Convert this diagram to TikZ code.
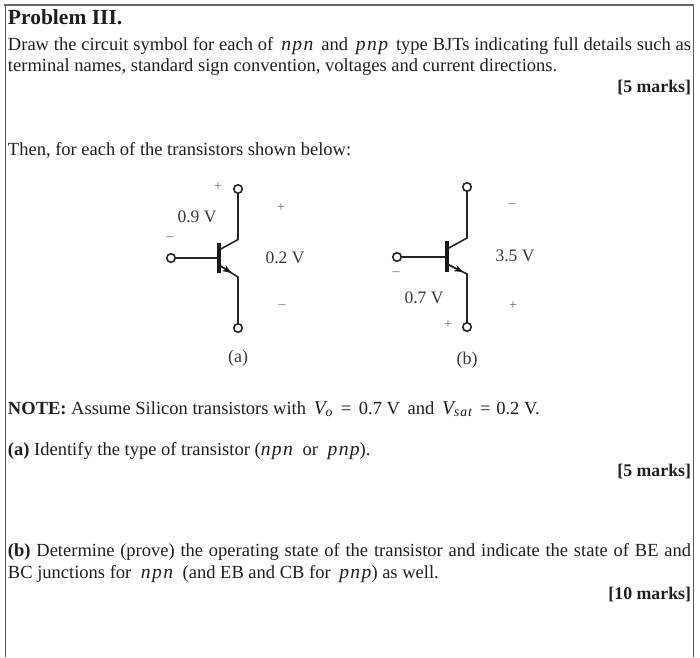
\documentclass[tikz,border=0pt]{standalone}
\usepackage{fontspec}
\setmainfont{Liberation Serif}
\newfontfamily\vitalic[LetterSpace=7,Scale=1.06]{Liberation Serif}
\usetikzlibrary{arrows.meta,calc}
\tikzset{
  txt/.style={anchor=base west,inner sep=0pt,outer sep=0pt,text=black!88,font=\fontsize{18.5}{20}\selectfont},
  rtxt/.style={anchor=base east,inner sep=0pt,outer sep=0pt,text=black!88,font=\fontsize{17.8}{20}\selectfont\bfseries},
  lbl/.style={anchor=center,inner sep=0pt,text=black!78,font=\fontsize{17.5}{20}\selectfont},
  sgn/.style={anchor=center,inner sep=0pt,text=black!60,font=\fontsize{14}{14}\selectfont},
  term/.style={circle,draw=black!85,line width=1.6pt,fill=white,minimum size=8.5pt,inner sep=0pt},
  wire/.style={draw=black!85,line width=1.6pt},
  bar/.style={draw=black!90,line width=3.4pt},
  head/.style={-{Stealth[length=9pt,width=7pt]},black!90,line width=1.2pt},
  frame/.style={draw=black!65,line width=1pt}
}
\newcommand{\jl}[1]{\makebox[683pt][s]{#1}}
\newcommand{\mi}[1]{{\vitalic\itshape #1}}
\begin{document}
\begin{tikzpicture}[x=1pt,y=-1pt]
\useasboundingbox (0,0) rectangle (700,657);
\fill[white] (0,0) rectangle (700,657);
% frame
\draw[frame] (5.5,5) -- (5.5,657);
\draw[frame] (693,5) -- (693,657);
\draw[draw=black!60,line width=2.6pt] (4,5) -- (694,5);
% texts
\node[txt,font=\fontsize{21.5}{24}\selectfont\bfseries] (title) at (8,24) {Problem III.};
\node[txt] (l1) at (8,50) {\jl{Draw the circuit symbol for each of\, \mi{npn}\, and\, \mi{pnp}\, type BJTs indicating full details such as}};
\node[txt] (l2) at (8,71) {terminal names, standard sign convention, voltages and current directions.};
\node[rtxt] (m1) at (691,92) {[5 marks]};
\node[txt] (l3) at (8,155) {Then, for each of the transistors shown below:};
\node[txt] (note) at (8,414) {\textbf{NOTE:} Assume Silicon transistors with\, \mi{V}\textsubscript{\mi{o}}\, =\hspace{3pt} 0.7 V\, and\, \mi{V}\textsubscript{\mi{sat}}\, =\hspace{1pt} 0.2 V.};
\node[txt] (qa) at (8,455) {\textbf{(a)} Identify the type of transistor (\mi{npn}\hspace{5pt} or\hspace{5pt} \mi{pnp}).};
\node[rtxt] (m2) at (691,476) {[5 marks]};
\node[txt] (qb1) at (8,556) {\jl{\textbf{(b)} Determine (prove) the operating state of the transistor and indicate the state of BE and}};
\node[txt] (qb2) at (8,578) {BC junctions for\hspace{5pt} \mi{npn}\hspace{5pt} (and EB and CB for\hspace{4pt} \mi{pnp}) as well.};
\node[rtxt] (m3) at (691,599) {[10 marks]};
% transistor (a)
\node[term] (ac) at (238,189) {};
\node[term] (ab) at (171,258) {};
\node[term] (ae) at (238,328) {};
\coordinate (acj) at (238,239.5);
\coordinate (acb) at (219,250);
\coordinate (aej) at (238,277);
\coordinate (aeb) at (219,265);
\coordinate (abb) at (219,258);
\coordinate (abt) at (219,243);
\coordinate (abl) at (219,273);
\path[wire] (ac) -- (acj) -- (acb);
\path[wire] (ab) -- (abb);
\path[wire] (aeb) -- (aej) -- (ae);
\draw[bar] (abt) -- (abl);
\draw[head] (aeb) -- ($(aeb)!0.65!(aej)$);
\node[sgn] (ap1) at (218,187) {+};
\node[lbl] (av1) at (197,217) {0.9 V};
\node[sgn] (am1) at (170,239) {--};
\node[sgn] (ap2) at (281,208) {+};
\node[lbl] (av2) at (285,258) {0.2 V};
\node[sgn] (am2) at (282,307) {--};
\node[lbl,font=\fontsize{18}{20}\selectfont] (la) at (238,358) {(a)};
% transistor (b)
\node[term] (bc) at (467,187) {};
\node[term] (bb) at (397,257) {};
\node[term] (be) at (467,327) {};
\coordinate (bcj) at (467,238);
\coordinate (bcb) at (447,249);
\coordinate (bej) at (467,274);
\coordinate (beb) at (447,264);
\coordinate (bbb) at (447,257);
\coordinate (bbt) at (447,241);
\coordinate (bbl) at (447,272);
\path[wire] (bc) -- (bcj) -- (bcb);
\path[wire] (bb) -- (bbb);
\path[wire] (beb) -- (bej) -- (be);
\draw[bar] (bbt) -- (bbl);
\draw[head] (beb) -- ($(beb)!0.8!(bej)$);
\node[sgn] (bm1) at (396,274) {--};
\node[lbl] (bv1) at (424,298) {0.7 V};
\node[sgn] (bp1) at (448,325) {+};
\node[sgn] (bm2) at (512,206) {--};
\node[lbl] (bv2) at (515,256) {3.5 V};
\node[sgn] (bp2) at (513,306) {+};
\node[lbl,font=\fontsize{18}{20}\selectfont] (lb) at (467,360) {(b)};
\end{tikzpicture}
\end{document}
